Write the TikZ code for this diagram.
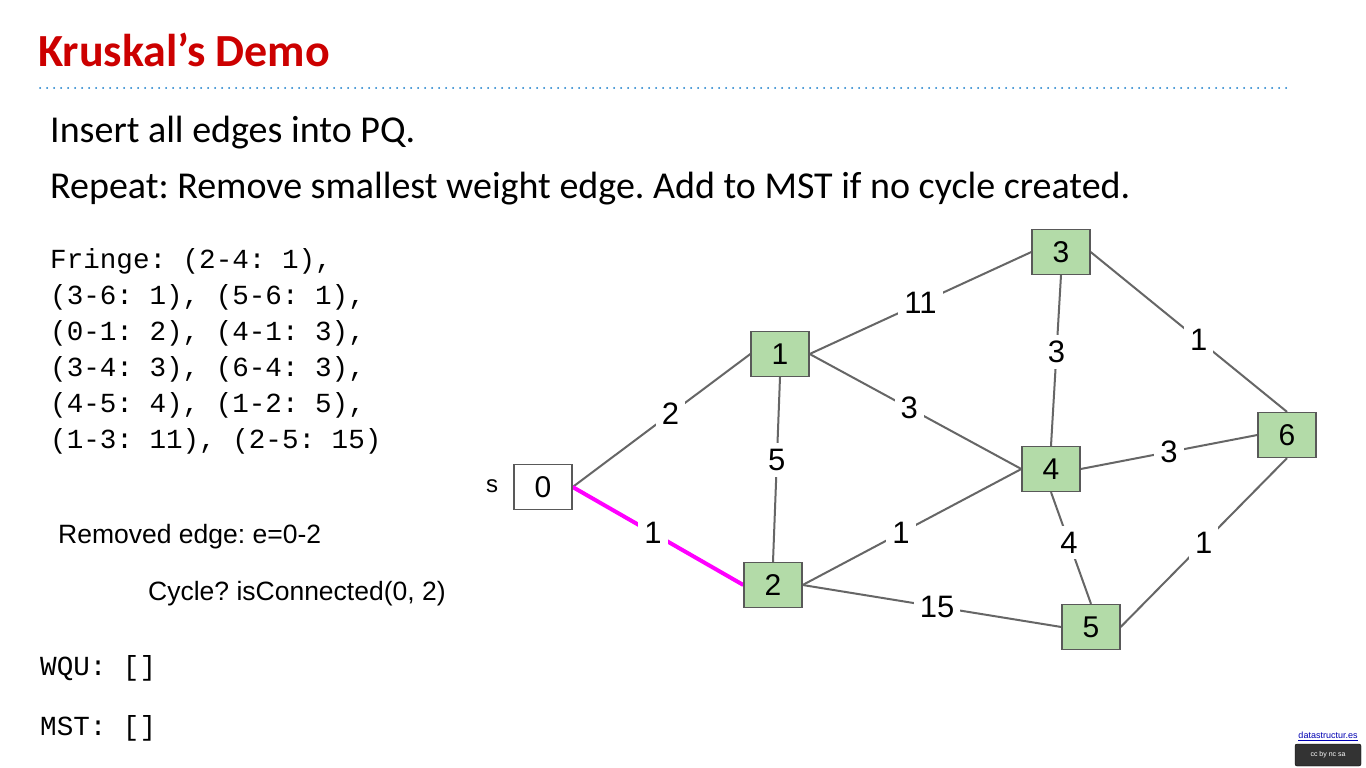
\documentclass[tikz,border=0pt]{standalone}
\usepackage{fontspec}
\setmainfont{Carlito}
\newfontfamily\arialf{Liberation Sans}
\newfontfamily\monof{Liberation Mono}
\begin{document}
\frenchspacing
\begin{tikzpicture}[x=1pt,y=-1pt,
  vbox/.style={draw=black!65,line width=1.3pt,fill=nodegreen,minimum width=58pt,minimum height=45pt,inner sep=0pt,font=\arialf\fontsize{30}{30}\selectfont},
  edge/.style={draw=black!60,line width=2pt},
  wl/.style={fill=white,inner sep=6pt,font=\arialf\fontsize{31}{31}\selectfont},
  mono/.style={font=\monof\fontsize{27.6}{36}\selectfont,anchor=north west,align=left,inner sep=0pt}]
\definecolor{nodegreen}{HTML}{B3DBA8}
\definecolor{mag}{HTML}{FF00FF}
\useasboundingbox (0,0) rectangle (1366,768);
\fill[white] (0,0) rectangle (1366,768);
\node[anchor=west,inner sep=0pt,text=red!80!black,font=\bfseries\fontsize{46}{46}\selectfont] (title) at (38,50) {Kruskal’s Demo};
\draw[color=cyan!60!blue,line width=2pt,dash pattern=on 0pt off 7pt,line cap=round] (40,88) -- (1290,88);
\node[anchor=west,inner sep=0pt,font=\fontsize{38}{38}\selectfont] (l1) at (50,133) {Insert all edges into PQ.};
\node[anchor=west,inner sep=0pt,font=\fontsize{38}{38}\selectfont] (l2) at (50,189) {Repeat: Remove smallest weight edge. Add to MST if no cycle created.};
\node[mono] (fr) at (50,248) {Fringe: (2-4: 1),\\(3-6: 1), (5-6: 1),\\(0-1: 2), (4-1: 3),\\(3-4: 3), (6-4: 3),\\(4-5: 4), (1-2: 5),\\(1-3: 11), (2-5: 15)};
\node[anchor=west,inner sep=0pt,font=\arialf\fontsize{26.5}{26.5}\selectfont] (rm) at (58,537) {Removed edge: e=0-2};
\node[anchor=west,inner sep=0pt,font=\arialf\fontsize{26.5}{26.5}\selectfont] (cy) at (148,594) {Cycle? isConnected(0, 2)};
\node[anchor=west,inner sep=0pt,font=\monof\fontsize{27.6}{27.6}\selectfont] (wqu) at (40,668) {WQU: []};
\node[anchor=west,inner sep=0pt,font=\monof\fontsize{27.6}{27.6}\selectfont] (mst) at (40,728) {MST: []};
\node[vbox,fill=white] (n0) at (543,487) {0};
\node[vbox] (n1) at (780,354) {1};
\node[vbox] (n2) at (773,585) {2};
\node[vbox] (n3) at (1061,252) {3};
\node[vbox] (n4) at (1051,469) {4};
\node[vbox] (n5) at (1091,627) {5};
\node[vbox] (n6) at (1287,435) {6};
\node[font=\arialf\fontsize{24}{24}\selectfont] (s) at (492,486) {s};
\draw[edge] (n0.east) -- node[wl,pos=0.55] {2} (n1.west);
\draw[draw=mag,line width=4pt] (n0.east) -- node[wl,pos=0.47] {1} (n2.west);
\draw[edge] (n1.south) -- node[wl,pos=0.45] {5} (n2.north);
\draw[edge] (n1.east) -- node[wl,pos=0.5] {11} (n3.west);
\draw[edge] (n1.east) -- node[wl,pos=0.47] {3} (n4.west);
\draw[edge] (n2.east) -- node[wl,pos=0.45] {1} (n4.west);
\draw[edge] (n2.east) -- node[wl,pos=0.52] {15} (n5.west);
\draw[edge] (n3.south) -- node[wl,pos=0.45] {3} (n4.north);
\draw[edge] (n3.east) -- node[wl,pos=0.55] {1} (n6.north);
\draw[edge] (n4.east) -- node[wl,pos=0.5] {3} (n6.west);
\draw[edge] (n4.south) -- node[wl,pos=0.45] {4} (n5.north);
\draw[edge] (n5.east) -- node[wl,pos=0.5] {1} (n6.south);
\node[vbox,fill=white] at (n0) {0};
\foreach \n/\t in {n1/1,n2/2,n3/3,n4/4,n5/5,n6/6} \node[vbox] at (\n) {\t};
\node[font=\arialf\fontsize{9}{9}\selectfont,text=blue!70!black] (ds) at (1328,736) {\underline{datastructur.es}};
\node[draw=black,fill=black!80,rounded corners=2pt,minimum width=66pt,minimum height=22pt,text=white,font=\arialf\fontsize{7}{7}\selectfont] (cc) at (1328,755) {cc by nc sa};
\end{tikzpicture}
\end{document}
